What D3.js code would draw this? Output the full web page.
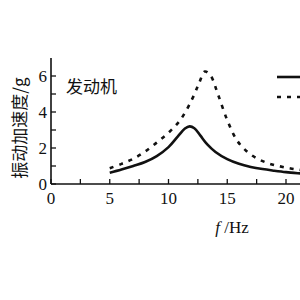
<!DOCTYPE html>
<html>
<head>
<meta charset="utf-8">
<script src="https://cdn.jsdelivr.net/npm/d3@7"></script>
<style>
  body { margin: 0; background: #fff; }
  svg { display: block; }
  text { font-family: "Liberation Serif", "Noto Sans CJK SC", serif; fill: #111; }
</style>
</head>
<body>
<div class="canvas"></div>
<script>
// data
const freq1 = [5, 6, 7, 8, 9, 10, 10.8, 11.4, 11.8, 12.2, 12.7, 13.3, 14, 15, 16, 17, 18, 19, 20, 21, 22];
const engine1 = [0.62, 0.8, 1.0, 1.22, 1.55, 2.05, 2.65, 3.08, 3.2, 3.1, 2.7, 2.2, 1.78, 1.38, 1.12, 0.95, 0.83, 0.74, 0.66, 0.6, 0.55];
const freq2 = [5, 6, 7, 8, 9, 10, 11, 12, 12.6, 13.1, 13.6, 14.2, 15, 15.8, 16.6, 17.5, 18.5, 19.5, 20.5, 21.5, 22.5];
const engine2 = [0.88, 1.12, 1.4, 1.8, 2.3, 2.85, 3.55, 4.7, 5.6, 6.25, 6.0, 5.0, 3.55, 2.45, 1.85, 1.43, 1.15, 0.98, 0.85, 0.76, 0.7];
const xTicks = [0, 5, 10, 15, 20];
const xMinor = [2.5, 7.5, 12.5, 17.5];
const yTicks = [0, 2, 4, 6];
const yMinor = [1, 3, 5];

const svg = d3.select(".canvas").append("svg").attr("width", 300).attr("height", 300);

const x = d3.scaleLinear().domain([0, 22]).range([51, 309.5]);
const y = d3.scaleLinear().domain([0, 7]).range([184, 58]);

// axes lines
svg.append("line").attr("x1", x(0)).attr("x2", 300).attr("y1", y(0)).attr("y2", y(0))
  .attr("stroke", "#111").attr("stroke-width", 1.6);
svg.append("line").attr("x1", x(0)).attr("x2", x(0)).attr("y1", y(0)).attr("y2", y(7))
  .attr("stroke", "#111").attr("stroke-width", 1.6);

// x ticks (pointing up)
svg.selectAll(".xt").data(xTicks.concat(xMinor)).enter().append("line")
  .attr("x1", (d) => x(d)).attr("x2", (d) => x(d))
  .attr("y1", y(0)).attr("y2", y(0) - 5)
  .attr("stroke", "#111").attr("stroke-width", 1.3);
svg.selectAll(".xl").data(xTicks).enter().append("text")
  .attr("x", (d) => x(d)).attr("y", 204)
  .attr("text-anchor", "middle").attr("font-size", 17)
  .text((d) => d);

// y ticks (pointing right)
svg.selectAll(".yt").data(yTicks.concat(yMinor)).enter().append("line")
  .attr("x1", x(0)).attr("x2", x(0) + 5)
  .attr("y1", (d) => y(d)).attr("y2", (d) => y(d))
  .attr("stroke", "#111").attr("stroke-width", 1.3);
svg.selectAll(".yl").data(yTicks).enter().append("text")
  .attr("x", 47).attr("y", (d) => y(d) + 6)
  .attr("text-anchor", "end").attr("font-size", 17)
  .text((d) => d);

// curves
const line = d3.line().x((d) => x(d[0])).y((d) => y(d[1])).curve(d3.curveCatmullRom);

svg.append("path")
  .datum(d3.zip(freq1, engine1))
  .attr("fill", "none").attr("stroke", "#111").attr("stroke-width", 2.6)
  .attr("d", line);

svg.append("path")
  .datum(d3.zip(freq2, engine2))
  .attr("fill", "none").attr("stroke", "#111").attr("stroke-width", 2.6)
  .attr("stroke-dasharray", "4,6")
  .attr("d", line);

// legend
svg.append("line").attr("x1", 277).attr("x2", 300).attr("y1", 77).attr("y2", 77)
  .attr("stroke", "#111").attr("stroke-width", 2.6);
svg.append("line").attr("x1", 277).attr("x2", 300).attr("y1", 97).attr("y2", 97)
  .attr("stroke", "#111").attr("stroke-width", 2.6).attr("stroke-dasharray", "4,6");

// labels
svg.append("text").attr("x", 66).attr("y", 93)
  .attr("font-size", 17)
  .style("font-family", "'Noto Sans CJK SC', serif")
  .text("发动机");

svg.append("text")
  .attr("transform", "translate(26,128) rotate(-90)")
  .attr("text-anchor", "middle").attr("font-size", 17)
  .style("font-family", "'Noto Sans CJK SC', serif")
  .text("振动加速度/g");

const xl = svg.append("text").attr("x", 232).attr("y", 233)
  .attr("text-anchor", "middle").attr("font-size", 17);
xl.append("tspan").attr("font-style", "italic").text("f");
xl.append("tspan").text(" /Hz");
</script>
</body>
</html>
